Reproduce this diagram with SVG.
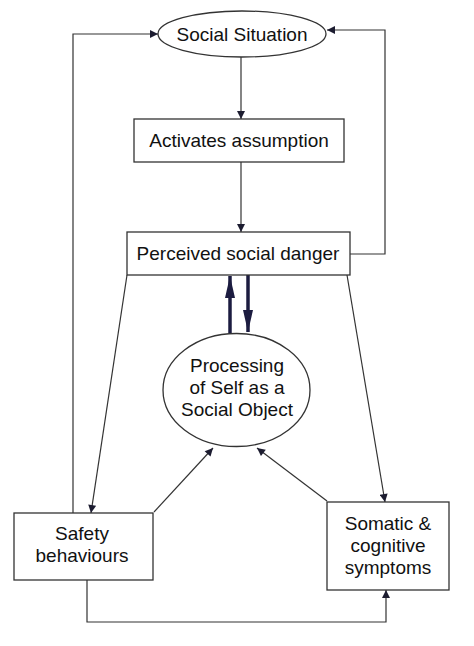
<svg xmlns="http://www.w3.org/2000/svg" width="474" height="646" viewBox="0 0 474 646">
<defs>
<marker id="ah" viewBox="0 0 10 10" refX="10" refY="5" markerWidth="10" markerHeight="8" markerUnits="userSpaceOnUse" orient="auto">
<path d="M0,0 L10,5 L0,10 Z" fill="#1c1c30"/>
</marker>
<marker id="ahb" viewBox="0 0 22 10" refX="22" refY="5" markerWidth="22" markerHeight="10" markerUnits="userSpaceOnUse" orient="auto">
<path d="M0,0 L22,5 L0,10 Z" fill="#1c1c40"/>
</marker>
</defs>
<style>
.n{fill:#fff;stroke:#333;stroke-width:1.3}
.t{font-family:"Liberation Sans",Arial,sans-serif;font-size:19px;fill:#111;text-anchor:middle}
.c{fill:none;stroke:#333;stroke-width:1.2}
.b{fill:none;stroke:#1c1c40;stroke-width:3.5}
</style>
<rect width="474" height="646" fill="#fff"/>
<g id="connectors">
<path class="c" d="M241,57 V119" marker-end="url(#ah)"/>
<path class="c" d="M241,162 V232" marker-end="url(#ah)"/>
<path class="c" d="M350,254 H385 V30 H327" marker-end="url(#ah)"/>
<path class="c" d="M73,513 V34 H158" marker-end="url(#ah)"/>
<path class="c" d="M127,275 L91,513" marker-end="url(#ah)"/>
<path class="c" d="M347,275 L385,502" marker-end="url(#ah)"/>
<path class="c" d="M154,512 L213,448" marker-end="url(#ah)"/>
<path class="c" d="M327,501 L257,448" marker-end="url(#ah)"/>
<path class="c" d="M87,580 V622 H386 V590" marker-end="url(#ah)"/>
<path class="b" d="M230,333 V276" marker-end="url(#ahb)"/>
<path class="b" d="M248,275 V332" marker-end="url(#ahb)"/>
</g>
<g id="social-situation">
<ellipse class="n" cx="242" cy="34" rx="84" ry="23"/>
<text class="t" x="242" y="41">Social Situation</text>
</g>
<g id="activates-assumption">
<rect class="n" x="134" y="119" width="210" height="43"/>
<text class="t" x="239" y="147">Activates assumption</text>
</g>
<g id="perceived-social-danger">
<rect class="n" x="127" y="232" width="223" height="43"/>
<text class="t" x="238" y="260">Perceived social danger</text>
</g>
<g id="processing-self">
<ellipse class="n" cx="236.5" cy="390" rx="73.5" ry="56.5"/>
<text class="t" x="237" y="372">Processing</text>
<text class="t" x="237" y="394">of Self as a</text>
<text class="t" x="237" y="416">Social Object</text>
</g>
<g id="safety-behaviours">
<rect class="n" x="14" y="513" width="139" height="67"/>
<text class="t" x="82" y="540">Safety</text>
<text class="t" x="82" y="562">behaviours</text>
</g>
<g id="somatic-symptoms">
<rect class="n" x="327" y="502" width="122" height="88"/>
<text class="t" x="388" y="530">Somatic &amp;</text>
<text class="t" x="388" y="552">cognitive</text>
<text class="t" x="388" y="574">symptoms</text>
</g>
</svg>
